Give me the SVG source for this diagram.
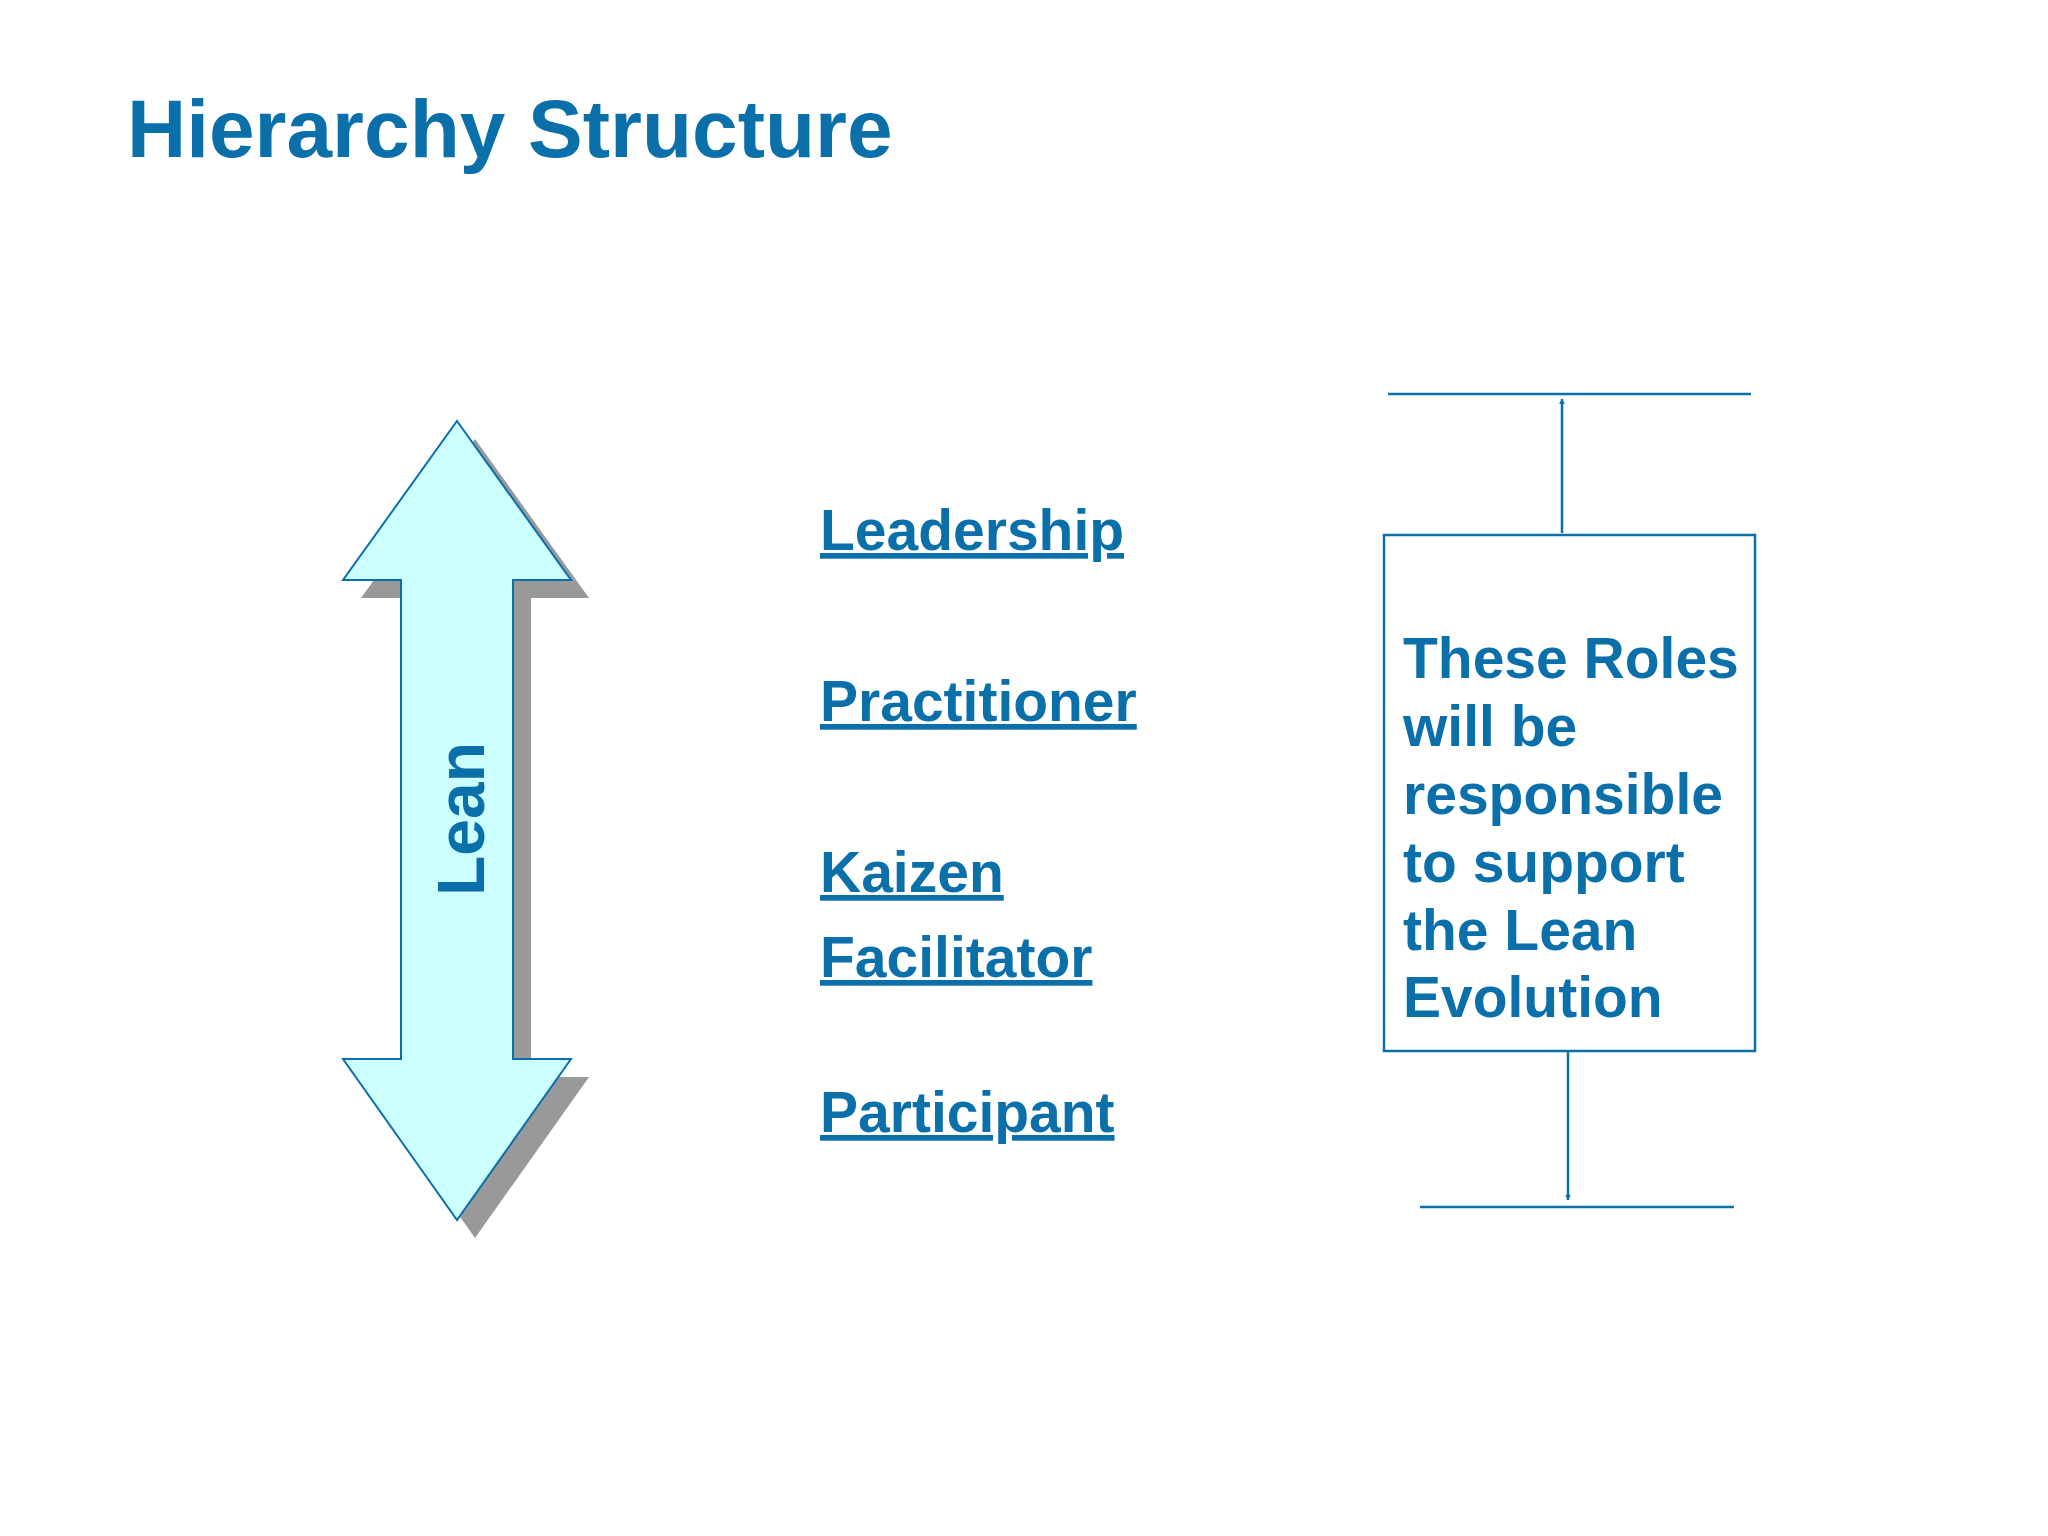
<svg xmlns="http://www.w3.org/2000/svg" width="2048" height="1536" viewBox="0 0 2048 1536">
<style>
.t{font-family:"Liberation Sans",Arial,sans-serif;font-weight:bold;fill:#0B6FAA}
.lbl{font-size:57px;text-decoration:underline}
.ln{stroke:#0B6FAA;stroke-width:2.5;fill:none}
</style>
<defs>
<marker id="ah" viewBox="0 0 10 10" refX="9" refY="5" markerWidth="6" markerHeight="8" orient="auto" markerUnits="userSpaceOnUse"><path d="M0,0L10,5L0,10z" fill="#0B6FAA"/></marker>
</defs>
<rect width="2048" height="1536" fill="#fff"/>
<text class="t" x="127" y="157" font-size="82">Hierarchy Structure</text>
<g id="lean-arrow">
<path transform="translate(18,18)" d="M457,421L571,580H513V1059H571L457,1220L343,1059H401V580H343Z" fill="#999"/>
<path d="M457,421L571,580H513V1059H571L457,1220L343,1059H401V580H343Z" fill="#CCFFFF" stroke="#0B6FAA" stroke-width="2"/>
<text class="t" font-size="66" text-anchor="middle" transform="translate(484,819) rotate(-90)">Lean</text>
</g>
<g id="leadership"><text class="t lbl" x="820" y="550">Leadership</text></g>
<g id="practitioner"><text class="t lbl" x="820" y="721">Practitioner</text></g>
<g id="kaizen"><text class="t lbl" x="820" y="892">Kaizen</text><text class="t lbl" x="820" y="977">Facilitator</text></g>
<g id="participant"><text class="t lbl" x="820" y="1132">Participant</text></g>
<g id="roles">
<rect x="1384" y="535" width="371" height="516" fill="#fff" stroke="#0B6FAA" stroke-width="2.5"/>
<text class="t" font-size="57"><tspan x="1403" y="678">These Roles</tspan><tspan x="1403" y="746">will be</tspan><tspan x="1403" y="814">responsible</tspan><tspan x="1403" y="882">to support</tspan><tspan x="1403" y="950">the Lean</tspan><tspan x="1403" y="1017">Evolution</tspan></text>
</g>
<g id="connectors">
<line class="ln" x1="1388" y1="394" x2="1751" y2="394"/>
<line class="ln" x1="1420" y1="1207" x2="1734" y2="1207"/>
<line class="ln" x1="1562" y1="533" x2="1562" y2="399" marker-end="url(#ah)"/>
<line class="ln" x1="1568" y1="1051" x2="1568" y2="1200" marker-end="url(#ah)"/>
</g>
</svg>
